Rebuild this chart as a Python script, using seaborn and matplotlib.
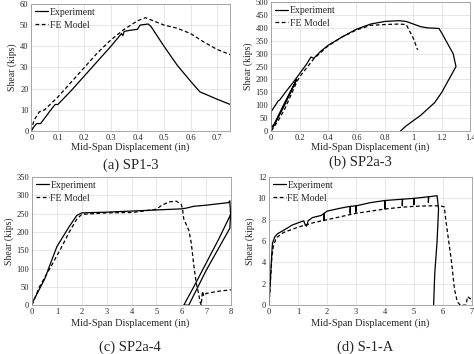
import numpy as np
import pandas as pd
import matplotlib
matplotlib.use("Agg")
import matplotlib.pyplot as plt
import seaborn as sns

sns.set_theme(style="whitegrid")
plt.rcParams["font.family"] = ["Liberation Serif", "DejaVu Serif"]

# ---- (a) SP1-3 ----
a_exp_x = [0, 0.01, 0.02, 0.035, 0.05, 0.08, 0.09, 0.1, 0.15, 0.2, 0.25, 0.3, 0.33, 0.34, 0.345,
           0.35, 0.37, 0.4, 0.41, 0.44, 0.45, 0.5, 0.55, 0.6, 0.635, 0.7, 0.75]
a_exp_y = [0, 2, 3.5, 3.5, 6, 11, 12.5, 12.5, 19, 26, 33, 40, 44.5, 46, 45,
           47, 47.5, 48, 50, 50.5, 49.5, 40, 31, 23.5, 18.5, 15, 12.5]
a_fe_x = [0, 0.01, 0.03, 0.05, 0.1, 0.15, 0.2, 0.25, 0.3, 0.35, 0.4, 0.43, 0.45, 0.5, 0.55,
          0.6, 0.65, 0.7, 0.75]
a_fe_y = [0, 5, 9, 10, 16, 23, 30, 37, 43, 48, 52, 53.5, 52.5, 50, 48.5, 46, 42, 38.5, 36]

# ---- (b) SP2a-3 ----
b_exp_x = [0, 0.09, 0.18, 0.1, 0.02, 0, 0, 0.03, 0.05, 0.06, 0.1, 0.15, 0.19, 0.25, 0.28, 0.3,
           0.35, 0.4, 0.5, 0.6, 0.7, 0.8, 0.9, 0.95, 1.0, 1.05, 1.1, 1.18, 1.2, 1.25, 1.28,
           1.3, 1.25, 1.2, 1.15, 1.05, 0.95, 0.91]
b_exp_y = [0, 95, 200, 115, 25, 15, 75, 100, 117, 120, 150, 185, 215, 260, 287, 282,
           310, 332, 365, 395, 415, 425, 428, 425, 415, 405, 400, 398, 380, 330, 300,
           250, 200, 150, 110, 60, 20, 0]
b_fe_x = [0, 0.05, 0.1, 0.18, 0.2, 0.3, 0.4, 0.5, 0.6, 0.7, 0.8, 0.9, 0.95, 1.0, 1.03]
b_fe_y = [0, 40, 90, 190, 210, 280, 330, 365, 392, 410, 413, 415, 413, 360, 315]

# ---- (c) SP2a-4 ----
c_exp_x = [0, 0.5, 1, 1.5, 1.8, 2, 3, 4, 5, 6, 6.2, 6.5, 7, 7.5, 7.9, 7.95, 7.98, 7.95,
           7, 6.3, 6.1, 6.5, 7, 7.5, 8]
c_exp_y = [5, 70, 160, 215, 245, 252, 254, 257, 260, 263, 265, 270, 273, 277, 280, 285, 250, 210,
           95, 0, 0, 50, 115, 180, 250]
c_fe_x = [0, 0.3, 0.8, 1.2, 1.5, 1.8, 2, 3, 4, 4.5, 5, 5.2, 5.5, 5.8, 6, 6.05, 6.1, 6.3, 6.4,
          6.5, 6.6, 6.7, 6.75, 6.8, 6.85, 6.9, 7, 7.5, 8]
c_fe_y = [0, 50, 110, 160, 200, 235, 248, 252, 253, 257, 262, 272, 282, 284, 275, 262, 235, 205, 170,
          110, 60, 30, 10, 0, 38, 25, 32, 38, 42]

# ---- (d) S-1-A ----
d_exp_x = [0, 0.05, 0.1, 0.12, 0.2, 0.3, 0.5, 0.8, 1, 1.2, 1.25, 1.3, 1.35, 1.5, 1.8,
           1.9, 1.9, 1.91, 2, 2.5, 2.8, 2.8, 2.81, 3, 3, 3.01, 3.5, 4, 4, 4.01, 4.5, 4.6, 4.6, 4.61,
           5, 5, 5.01, 5.5, 5.5, 5.51, 5.8, 5.85, 5.8, 5.72, 5.68]
d_exp_y = [0, 2.5, 5, 5.8, 6.4, 6.7, 7, 7.5, 7.7, 7.9, 7.5, 7.4, 7.9, 8.2, 8.4,
           8.6, 7.9, 8.6, 8.8, 9.1, 9.25, 8.6, 9.25, 9.3, 8.7, 9.3, 9.6, 9.8, 9.0, 9.8, 9.9, 9.92, 9.3, 9.92,
           10, 9.4, 10, 10.15, 9.6, 10.15, 10.25, 9, 6, 3, 0]
d_fe_x = [0, 0.1, 0.15, 0.25, 0.5, 1, 1.5, 2, 2.5, 3, 3.5, 4, 4.5, 5, 5.5, 5.9, 6.05, 6.1,
          6.2, 6.3, 6.4, 6.5, 6.6, 6.8, 6.85, 6.95, 7]
d_fe_y = [0, 4.5, 5.5, 6.3, 6.8, 7.3, 7.7, 8.0, 8.3, 8.6, 8.8, 9.0, 9.15, 9.25, 9.3, 9.3, 9.2, 8,
          6, 4, 1.5, 0.3, 0, 0, 0.8, 0.6, 0.3]

panels = [
    dict(ex=a_exp_x, ey=a_exp_y, fx=a_fe_x, fy=a_fe_y, xlim=(0, 0.75), ylim=(0, 60),
         xt=np.arange(0, 0.75, 0.1), xtl=["0", "0.1", "0.2", "0.3", "0.4", "0.5", "0.6", "0.7"],
         yt=np.arange(0, 61, 10), cap="(a) SP1-3",
         pos=[0.066, 0.630, 0.420, 0.359], cx=0.275, cy=0.532, lx=0.275, ly=0.583),
    dict(ex=b_exp_x, ey=b_exp_y, fx=b_fe_x, fy=b_fe_y, xlim=(0, 1.4), ylim=(0, 500),
         xt=np.arange(0, 1.41, 0.2), xtl=["0", "0.2", "0.4", "0.6", "0.8", "1", "1.2", "1.4"],
         yt=np.arange(0, 501, 50), cap="(b) SP2a-3",
         pos=[0.572, 0.630, 0.420, 0.364], cx=0.760, cy=0.542, lx=0.780, ly=0.583),
    dict(ex=c_exp_x, ey=c_exp_y, fx=c_fe_x, fy=c_fe_y, xlim=(0, 8), ylim=(0, 350),
         xt=np.arange(0, 9, 1), xtl=[str(i) for i in range(9)],
         yt=np.arange(0, 351, 50), cap="(c) SP2a-4",
         pos=[0.0675, 0.138, 0.420, 0.362], cx=0.275, cy=0.020, lx=0.275, ly=0.088),
    dict(ex=d_exp_x, ey=d_exp_y, fx=d_fe_x, fy=d_fe_y, xlim=(0, 7), ylim=(0, 12),
         xt=np.arange(0, 8, 1), xtl=[str(i) for i in range(8)],
         yt=np.arange(0, 13, 2), cap="(d) S-1-A",
         pos=[0.5675, 0.138, 0.428, 0.362], cx=0.770, cy=0.020, lx=0.780, ly=0.088),
]

fig = plt.figure(figsize=(4.74, 3.54), dpi=100)

for p in panels:
    ax = fig.add_axes(p["pos"])
    exp = pd.DataFrame({"x": p["ex"], "y": p["ey"]})
    fe = pd.DataFrame({"x": p["fx"], "y": p["fy"]})
    sns.lineplot(data=exp, x="x", y="y", sort=False, estimator=None, color="black",
                 linewidth=0.9, ax=ax, label="Experiment")
    sns.lineplot(data=fe, x="x", y="y", sort=False, estimator=None, color="black",
                 linewidth=0.9, linestyle=(0, (3, 2)), ax=ax, label="FE Model")
    ax.set_xlim(*p["xlim"])
    ax.set_ylim(*p["ylim"])
    ax.set_xticks(p["xt"])
    ax.set_xticklabels(p["xtl"])
    ax.set_yticks(p["yt"])
    ax.tick_params(labelsize=6, length=0, pad=2)
    ax.grid(True, color="#dcdcdc", linewidth=0.5)
    for s in ax.spines.values():
        s.set_color("#9a9a9a")
        s.set_linewidth(0.6)
    ax.set_xlabel("")
    ax.set_ylabel("Shear (kips)", fontsize=7, labelpad=2)
    fig.text(p["lx"], p["ly"], "Mid-Span Displacement (in)", fontsize=7.5, ha="center", va="center")
    fig.text(p["cx"], p["cy"], p["cap"], fontsize=10.5, ha="center", va="center")
    leg = ax.legend(loc="upper left", frameon=False, fontsize=7, handlelength=1.3,
                    handletextpad=0.2, borderaxespad=0.2, labelspacing=0.4,
                    borderpad=0.2)

fig.savefig("out.png", dpi=100)
